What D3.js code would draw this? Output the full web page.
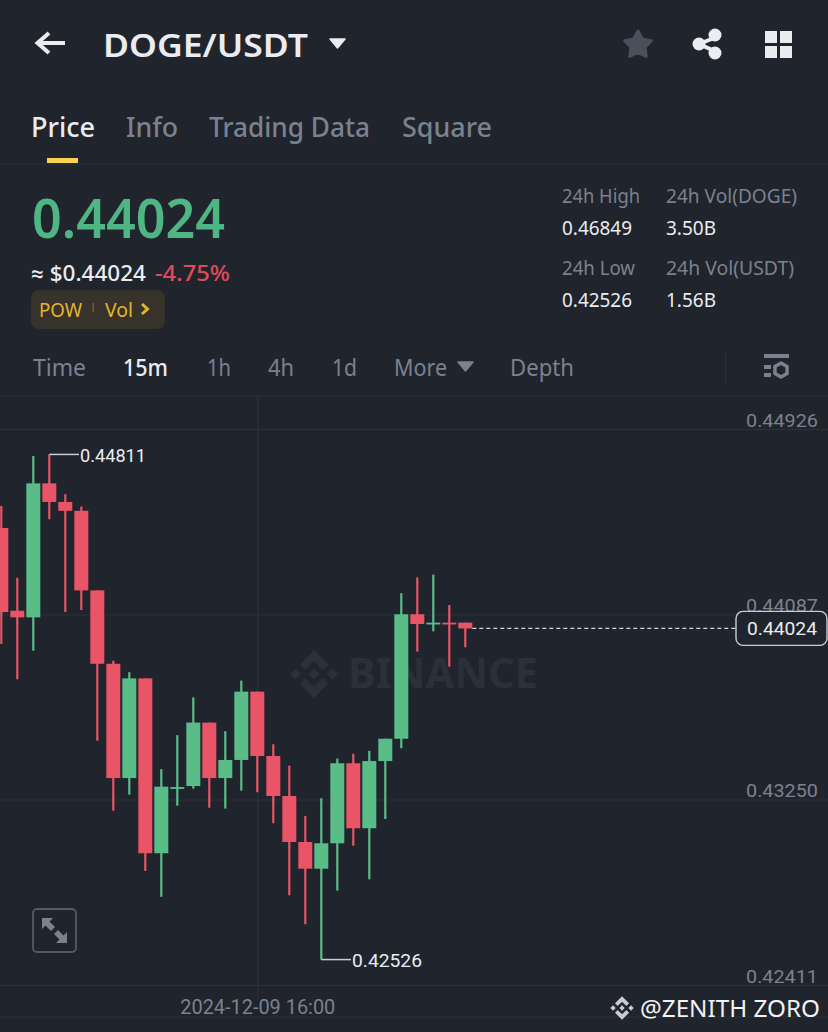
<!DOCTYPE html>
<html>
<head>
<meta charset="utf-8">
<script src="https://cdnjs.cloudflare.com/ajax/libs/d3/7.8.5/d3.min.js"></script>
<style>
  html, body { margin: 0; padding: 0; background: #20242d; }
  svg { display: block; font-family: "Noto Sans", Roboto, sans-serif; }
</style>
</head>
<body>
<svg id="chart" width="828" height="1032"></svg>
<script>
// candle values, 15m DOGE/USDT
const opens = [0.44478, 0.44104, 0.44074, 0.44680, 0.44596, 0.44556, 0.44196, 0.43864, 0.43347, 0.43798,
  0.43007, 0.43300, 0.43311, 0.43598, 0.43347, 0.43429, 0.43738, 0.43447, 0.43266, 0.43058,
  0.42937, 0.43052, 0.43414, 0.43120, 0.43424, 0.43525, 0.44088, 0.44046, 0.44050, 0.44050];
const closes = [0.44098, 0.44074, 0.44680, 0.44596, 0.44556, 0.44196, 0.43864, 0.43347, 0.43798, 0.43007,
  0.43308, 0.43306, 0.43598, 0.43347, 0.43429, 0.43738, 0.43447, 0.43266, 0.43058, 0.42937,
  0.43052, 0.43414, 0.43120, 0.43424, 0.43525, 0.44088, 0.44044, 0.44050, 0.44046, 0.44024];
const highs = [0.44578, 0.44253, 0.44804, 0.44811, 0.44631, 0.44575, 0.44196, 0.43878, 0.43826, 0.43798,
  0.43387, 0.43541, 0.43712, 0.43598, 0.43559, 0.43788, 0.43738, 0.43500, 0.43403, 0.43176,
  0.43256, 0.43435, 0.43457, 0.43470, 0.43525, 0.44183, 0.44255, 0.44267, 0.44130, 0.44050];
const lows = [0.43954, 0.43794, 0.43923, 0.44518, 0.44098, 0.44107, 0.43516, 0.43199, 0.43272, 0.42927,
  0.42810, 0.43222, 0.43299, 0.43213, 0.43209, 0.43290, 0.43283, 0.43143, 0.42817, 0.42686,
  0.42526, 0.42838, 0.43041, 0.42889, 0.43162, 0.43482, 0.43919, 0.44011, 0.43851, 0.43939];

const priceTicks = [0.44926, 0.44087, 0.43250, 0.42411];
const timeTickIndex = [16];
const timeTickLabels = ["2024-12-09 16:00"];
const maxPrice = 0.44811, maxIndex = 3;
const minPrice = 0.42526, minIndex = 20;
const lastPrice = 0.44024;

const tabs = ["Price", "Info", "Trading Data", "Square"];
const intervals = ["Time", "15m", "1h", "4h", "1d", "More", "Depth"];
const stats = [["24h High", "0.46849"], ["24h Vol(DOGE)", "3.50B"], ["24h Low", "0.42526"], ["24h Vol(USDT)", "1.56B"]];

const bg = "#20242d", green = "#5abd88", red = "#e95566", grid = "#2d313b";
const dim = "#7b828f", light = "#eaecef";

const svg = d3.select("#chart");
svg.append("rect").attr("width", 828).attr("height", 1032).attr("fill", bg);

function label(x, y, str, size, fill, weight, anchor, len) {
  const t = svg.append("text").attr("x", x).attr("y", y).text(str)
    .attr("font-size", size).attr("fill", fill)
    .attr("font-weight", weight || 400).attr("text-anchor", anchor || "start");
  if (len) t.attr("textLength", len).attr("lengthAdjust", "spacingAndGlyphs");
  return t;
}
function hline(y) {
  svg.append("line").attr("x1", 0).attr("x2", 828).attr("y1", y).attr("y2", y).attr("stroke", grid).attr("stroke-width", 1.2);
}

// header
svg.append("path").attr("d", "M65 43H38M49 33L37.5 43L49 53").attr("fill", "none").attr("stroke", light).attr("stroke-width", 4);
label(103, 57, "DOGE/USDT", 33, light, 600, "start", 205);
svg.append("path").attr("d", "M330 39H345L337.5 48Z").attr("fill", light).attr("stroke", light).attr("stroke-width", 1.5).attr("stroke-linejoin", "round");

const starPts = d3.range(10).map(i => {
  const r = i % 2 ? 7.5 : 14, a = i * Math.PI / 5;
  return [638 + r * Math.sin(a), 45 - r * Math.cos(a)];
});
svg.append("path").attr("d", d3.line().curve(d3.curveLinearClosed)(starPts))
  .attr("fill", "#49505c").attr("stroke", "#49505c").attr("stroke-width", 3).attr("stroke-linejoin", "round");
svg.append("path").attr("d", "M719 36L699 44L719 53").attr("fill", "none").attr("stroke", light).attr("stroke-width", 4);
[[699, 44, 6.5], [715, 35, 6.5], [715, 53, 6.5]].forEach(c => {
  svg.append("circle").attr("cx", c[0]).attr("cy", c[1]).attr("r", c[2]).attr("fill", light);
});
[[765, 31], [780, 31], [765, 46], [780, 46]].forEach(c => {
  svg.append("rect").attr("x", c[0]).attr("y", c[1]).attr("width", 12).attr("height", 12).attr("fill", light);
});

// tabs
const tabX = [31, 126, 209, 402], tabW = [64, 52, 161, 90];
tabs.forEach((t, i) => label(tabX[i], 137, t, 27, i == 0 ? light : dim, 500, "start", tabW[i]));
svg.append("rect").attr("x", 47).attr("y", 158).attr("width", 31).attr("height", 5).attr("fill", "#f6d44f");
hline(164);

// price block
label(32, 238, "0.44024", 54, "#4fb583", 600, "start", 193);
label(31, 281, "≈ $0.44024", 22, light, 500, "start", 115);
label(155, 281, "-4.75%", 22, "#e04b5b", 500, "start", 75);
svg.append("rect").attr("x", 31).attr("y", 290).attr("width", 134).attr("height", 39).attr("rx", 8).attr("fill", "#38332a");
label(39, 317, "POW", 20, "#e3b52f", 400, "start", 43);
svg.append("rect").attr("x", 92.5).attr("y", 303).attr("width", 1.5).attr("height", 9).attr("fill", "#6a5f38");
label(105, 317, "Vol", 20, "#e3b52f", 400, "start", 28);
svg.append("path").attr("d", "M142 304L147.5 309L142 314").attr("fill", "none").attr("stroke", "#e3b52f").attr("stroke-width", 3);

const statX = [562, 666, 562, 666], statTop = [203, 203, 275, 275], statLabelW = [78, 131, 73, 128], statValW = [70, 50, 70, 50];
stats.forEach((s, i) => {
  label(statX[i], statTop[i], s[0], 20, dim, 400, "start", statLabelW[i]);
  label(statX[i], statTop[i] + 32, s[1], 19, light, 400, "start", statValW[i]);
});

// interval row
const intervalX = [33, 123, 207, 268, 332, 394, 510], intervalW = [53, 45, 24, 26, 25, 53, 64];
intervals.forEach((t, i) => label(intervalX[i], 376, t, 23, i == 1 ? light : dim, i == 1 ? 500 : 400, "start", intervalW[i]));
svg.append("path").attr("d", "M458 362H473L465.5 371Z").attr("fill", dim).attr("stroke", dim).attr("stroke-width", 1.5).attr("stroke-linejoin", "round");
svg.append("line").attr("x1", 725.5).attr("x2", 725.5).attr("y1", 352).attr("y2", 384).attr("stroke", grid);
svg.append("rect").attr("x", 764).attr("y", 354).attr("width", 25).attr("height", 4).attr("fill", dim);
svg.append("rect").attr("x", 764).attr("y", 365).attr("width", 7).attr("height", 4).attr("fill", dim);
svg.append("rect").attr("x", 764).attr("y", 373).attr("width", 7).attr("height", 4).attr("fill", dim);
const hexPts = d3.range(6).map(i => [781 + 7 * Math.sin(i * Math.PI / 3), 370 - 7 * Math.cos(i * Math.PI / 3)]);
svg.append("path").attr("d", d3.line().curve(d3.curveLinearClosed)(hexPts)).attr("fill", "none")
  .attr("stroke", dim).attr("stroke-width", 3.5).attr("stroke-linejoin", "round");
hline(396);
hline(1017);

// scales
const y = d3.scaleLinear().domain([0.42411, 0.44926]).range([985, 429]);
const x = d3.scaleLinear().domain([0, 29]).range([1.3, 465.3]);

// watermark sits under the grid and candles
const logo = "M12 2L18 8L15.7 10.3L12 6.6L8.3 10.3L6 8ZM12 22L6 16L8.3 13.7L12 17.4L15.7 13.7L18 16ZM2 12L4.3 9.7L6.6 12L4.3 14.3ZM22 12L19.7 14.3L17.4 12L19.7 9.7ZM12 9.7L14.3 12L12 14.3L9.7 12Z";
svg.append("path").attr("d", logo).attr("fill", "#2c3039").attr("transform", "translate(285.2,645.2) scale(2.4)");
label(348, 688, "BINANCE", 42, "#2c3039", 700, "start", 190);

// axes
const yAxis = d3.axisLeft(y).tickValues(priceTicks).tickSize(828).tickFormat(d3.format(".5f"));
const yG = svg.append("g").attr("transform", "translate(828,0)").call(yAxis);
yG.select(".domain").remove();
yG.selectAll("line").attr("stroke", grid).attr("stroke-width", 1.2);
yG.selectAll("text").attr("x", -10).attr("dy", "-3px").attr("font-size", 19).attr("fill", dim)
  .attr("font-family", "Roboto").attr("textLength", 72).attr("lengthAdjust", "spacingAndGlyphs");

const xAxis = d3.axisBottom(x).tickValues(timeTickIndex).tickSize(604).tickPadding(15)
  .tickFormat((d, i) => timeTickLabels[i]);
const xG = svg.append("g").attr("transform", "translate(0,396)").call(xAxis);
xG.select(".domain").remove();
xG.selectAll("line").attr("stroke", grid).attr("stroke-width", 1.2);
xG.selectAll("text").attr("font-size", 20).attr("fill", dim).attr("font-family", "Roboto").attr("y", 604)
  .attr("textLength", 155).attr("lengthAdjust", "spacingAndGlyphs");

// candles
const candles = opens.map((o, i) => ({ i: i, o: o, c: closes[i], h: highs[i], l: lows[i] }));
const color = d => d.c >= d.o ? green : red;
svg.append("g").selectAll("line").data(candles).join("line")
  .attr("x1", d => x(d.i)).attr("x2", d => x(d.i))
  .attr("y1", d => y(d.h)).attr("y2", d => y(d.l))
  .attr("stroke", color).attr("stroke-width", 2.2);
svg.append("g").selectAll("rect").data(candles).join("rect")
  .attr("x", d => x(d.i) - 7).attr("width", 14)
  .attr("y", d => y(Math.max(d.o, d.c)))
  .attr("height", d => Math.max(1.8, Math.abs(y(d.o) - y(d.c))))
  .attr("fill", color);

// high / low markers
svg.append("path").attr("d", d3.line()([[x(maxIndex), y(maxPrice)], [79, y(maxPrice)]])).attr("stroke", "#c9ccd2").attr("stroke-width", 1.5);
label(80, y(maxPrice) + 7.5, maxPrice.toFixed(5), 19, light, 400, "start", 66).attr("font-family", "Roboto");
svg.append("path").attr("d", d3.line()([[x(minIndex), y(minPrice)], [351, y(minPrice)]])).attr("stroke", "#c9ccd2").attr("stroke-width", 1.5);
label(352, y(minPrice) + 7.5, minPrice.toFixed(5), 19, light, 400, "start", 70).attr("font-family", "Roboto");

// last price line and box
svg.append("line").attr("x1", x(29) + 7).attr("x2", 736).attr("y1", y(lastPrice)).attr("y2", y(lastPrice))
  .attr("stroke", "#d5d7dc").attr("stroke-width", 1.2).attr("stroke-dasharray", "4 3");
svg.append("rect").attr("x", 736).attr("y", y(lastPrice) - 17).attr("width", 91).attr("height", 34).attr("rx", 7)
  .attr("fill", bg).attr("stroke", "#c9ccd2").attr("stroke-width", 1.4);
label(747, y(lastPrice) + 7, lastPrice.toFixed(5), 19, light, 400, "start", 70).attr("font-family", "Roboto");

// expand button
svg.append("rect").attr("x", 33).attr("y", 909).attr("width", 43).attr("height", 43).attr("rx", 4)
  .attr("fill", "none").attr("stroke", "#545a65").attr("stroke-width", 1.8);
svg.append("path").attr("d", "M42 918H53L49.5 921.5L55 927L51 931L45.5 925.5L42 929Z").attr("fill", "#7b828f");
svg.append("path").attr("d", "M67 943H56L59.5 939.5L54 934L58 930L63.5 935.5L67 932Z").attr("fill", "#7b828f");

// footer credit
svg.append("path").attr("d", logo).attr("fill", "#c9cbcf").attr("transform", "translate(608,994) scale(1.17)");
label(640, 1017, "@ZENITH ZORO", 24, "#f2f2f2", 400, "start", 180);
</script>
</body>
</html>
